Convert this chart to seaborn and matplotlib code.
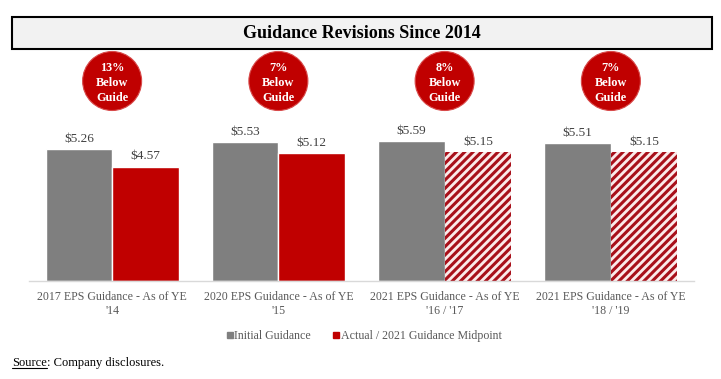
import matplotlib
matplotlib.use("Agg")
import matplotlib.pyplot as plt
import seaborn as sns
import pandas as pd
from matplotlib.patches import Ellipse, Rectangle
from matplotlib.lines import Line2D
import matplotlib.transforms as mtransforms

# ---------------- data ----------------
categories = ["2017 EPS Guidance - As of YE\n'14",
              "2020 EPS Guidance - As of YE\n'15",
              "2021 EPS Guidance - As of YE\n'16 / '17",
              "2021 EPS Guidance - As of YE\n'18 / '19"]
initial_guidance = [5.26, 5.53, 5.59, 5.51]
actual_midpoint = [4.57, 5.12, 5.15, 5.15]
below_guide_pct = [13, 7, 8, 7]
series_names = ["Initial Guidance", "Actual / 2021 Guidance Midpoint"]
title_text = "Guidance Revisions Since 2014"

GRAY = "#7f7f7f"
RED = "#c00000"
HATCH_RED = "#a8101a"
TEXT = "#404040"

sns.set_theme(style="white")
plt.rcParams["font.family"] = ["Liberation Serif", "DejaVu Serif"]
plt.rcParams["hatch.linewidth"] = 2.2

df = pd.DataFrame({
    "category": categories * 2,
    "series": [series_names[0]] * 4 + [series_names[1]] * 4,
    "value": initial_guidance + actual_midpoint,
})

W, H = 721, 379
fig = plt.figure(figsize=(W / 100, H / 100), dpi=100)
ax = fig.add_axes([29 / W, (H - 281) / H, 665 / W, 150.3 / H])

sns.barplot(data=df, x="category", y="value", hue="series",
            palette=[GRAY, RED], width=0.8, saturation=1,
            ax=ax, legend=False)

ax.set_ylim(0, 6)
ax.set_xlim(-0.5, 3.5)
ax.set_xlabel("")
ax.set_ylabel("")
ax.set_yticks([])
for s in ["left", "right", "top"]:
    ax.spines[s].set_visible(False)
ax.spines["bottom"].set_color("#d9d9d9")
ax.spines["bottom"].set_linewidth(1.0)
ax.tick_params(axis="x", length=0, pad=7, labelsize=8.6, labelcolor="#595959")
for lbl in ax.get_xticklabels():
    lbl.set_linespacing(1.2)

# hatch the last two "actual" bars (2021 guidance midpoint)
for i, bar in enumerate(ax.containers[1]):
    if i >= 2:
        bar.set_facecolor("#fbeaea")
        bar.set_edgecolor(HATCH_RED)
        bar.set_hatch("////")
        bar.set_linewidth(0)

# value labels
for cont in ax.containers:
    ax.bar_label(cont, labels=[f"${b.get_height():.2f}" for b in cont],
                 padding=3, fontsize=9.5, color=TEXT)

# title box
fig.add_artist(Rectangle((12 / W, (H - 49) / H), 700 / W, 32 / H,
                         transform=fig.transFigure, facecolor="#f2f2f2",
                         edgecolor="black", linewidth=1.5))
fig.text(362 / W, (H - 33) / H, title_text, ha="center", va="center",
         fontsize=13, fontweight="bold", color="black")

# "below guide" circles
blend = mtransforms.blended_transform_factory(ax.transData, fig.transFigure)
px_per_unit = 665 / 4
for i, pct in enumerate(below_guide_pct):
    fig.add_artist(Ellipse((i, (H - 81) / H), 59 / px_per_unit, 59 / H,
                           transform=blend, facecolor=RED,
                           edgecolor="#d84a4a", linewidth=0.8))
    fig.text(i, (H - 83) / H, f"{pct}%\nBelow\nGuide", transform=blend,
             ha="center", va="center", color="white", fontweight="bold",
             fontsize=8.8, linespacing=1.35)

# legend
handles = [Line2D([], [], marker="s", linestyle="", markersize=5, color=c)
           for c in [GRAY, RED]]
fig.legend(handles, series_names, loc="center", ncol=2,
           bbox_to_anchor=(364 / W, (H - 336) / H), frameon=False,
           fontsize=8.6, labelcolor="#595959", handlelength=0.6,
           handletextpad=0.1, columnspacing=1.8)

# source line with underlined "Source"
src = fig.text(12 / W, (H - 363) / H, "Source", ha="left", va="center",
               fontsize=9, color="black")
fig.canvas.draw()
bb = src.get_window_extent()
fig.text(bb.x1 / W, (H - 363) / H, ": Company disclosures.", ha="left",
         va="center", fontsize=9, color="black")
fig.add_artist(Line2D([bb.x0 / W, bb.x1 / W], [(bb.y0 + 1) / H, (bb.y0 + 1) / H],
                      transform=fig.transFigure, color="black", linewidth=0.8))

fig.savefig("out.png", dpi=100)
